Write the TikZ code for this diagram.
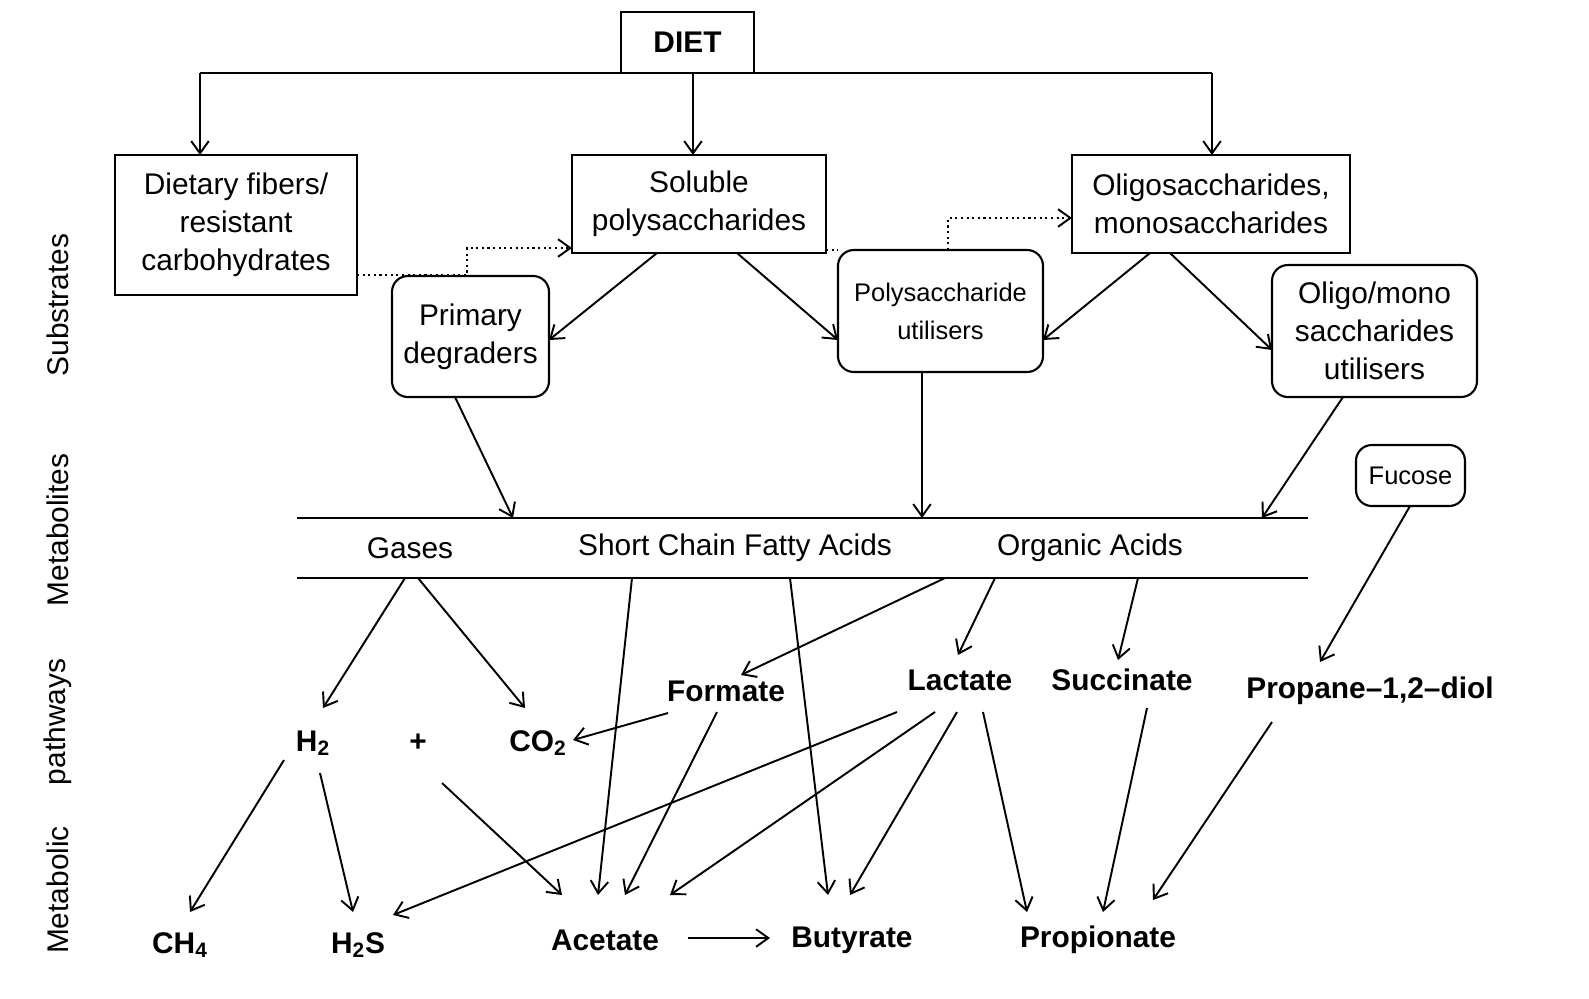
\documentclass[tikz,border=0pt]{standalone}
\usepackage{fontspec}
\setmainfont{Liberation Sans}
\usetikzlibrary{arrows.meta}
\begin{document}
\begin{tikzpicture}[x=0.02cm,y=-0.02cm,
  every node/.style={font=\fontsize{17}{21.5}\selectfont,align=center,inner sep=0pt},
  bx/.style={draw,line width=1.2pt},
  rbx/.style={draw,line width=1.2pt,rounded corners=9pt},
  bl/.style={font=\fontsize{17}{21.5}\selectfont\bfseries},
  ar/.style={line width=1.1pt,-{Straight Barb[length=7pt,width=10pt,line width=1.1pt]}},
  dt/.style={line width=1.2pt,dotted,-{Straight Barb[length=7pt,width=10pt,line width=1.1pt]}},
  side/.style={rotate=90,font=\fontsize{17}{21.5}\selectfont}]
\useasboundingbox (0,0) rectangle (1589,998);
% boxes
\node[bx,minimum width=133*0.02cm,minimum height=61*0.02cm,font=\fontsize{17}{21.5}\selectfont\bfseries] (diet) at (687.5,42.5) {DIET};
\node[bx,minimum width=242*0.02cm,minimum height=140*0.02cm] (fib) at (236,225) {Dietary fibers/\\resistant\\carbohydrates};
\node[bx,minimum width=254*0.02cm,minimum height=98*0.02cm] (sol) at (699,204) {Soluble\\polysaccharides};
\node[bx,minimum width=278*0.02cm,minimum height=98*0.02cm] (oli) at (1211,204) {Oligosaccharides,\\monosaccharides};
\node[rbx,minimum width=157*0.02cm,minimum height=121*0.02cm] (pd) at (470.5,336.5) {Primary\\degraders};
\node[rbx,minimum width=205*0.02cm,minimum height=122*0.02cm,font=\fontsize{14.5}{21.5}\selectfont,fill=white] (pu) at (940.5,311) {Polysaccharide\\utilisers};
\node[rbx,minimum width=205*0.02cm,minimum height=132*0.02cm] (ou) at (1374.5,331) {Oligo/mono\\saccharides\\utilisers};
\node[rbx,minimum width=109*0.02cm,minimum height=61*0.02cm,font=\fontsize{14.5}{21.5}\selectfont] (fuc) at (1410.5,475.5) {Fucose};
% diet tree
\draw[line width=1.2pt] (200,73) -- (1212,73);
\draw[ar] (200,73) -- (200,155);
\draw[ar] (693,73) -- (693,155);
\draw[ar] (1212,73) -- (1212,155);
% dotted
\draw[dt] (357,275) -- (467,275) -- (467,248) -- (572,248);
\begin{scope}[on background layer/.try]\end{scope}
\draw[line width=1.2pt,dotted] (826,250) -- (838,250);
\draw[dt] (948,250) -- (948,218) -- (1072,218);
% substrate arrows
\draw[ar] (657,253) -- (549,340);
\draw[ar] (737,253) -- (838,340);
\draw[ar] (1150,253) -- (1043,340);
\draw[ar] (1170,253) -- (1272,350);
\draw[ar] (455,397) -- (513,518);
\draw[ar] (922,372) -- (922,518);
\draw[ar] (1343,397) -- (1262,518);
% metabolites band
\draw[line width=1.2pt] (297,518) -- (1308,518);
\draw[line width=1.2pt] (297,578) -- (1308,578);
\node (gas) at (410,548) {Gases};
\node (scfa) at (735,548) {Short Chain Fatty Acids};
\node (oa) at (1090,548) {Organic Acids};
% labels
\node[bl] (form) at (726,691) {Formate};
\node[bl] (lac) at (960,680) {Lactate};
\node[bl] (suc) at (1122,680) {Succinate};
\node[bl] (prd) at (1370,691) {Propane--1,2--diol};
\node[bl] (h2) at (313,743) {H$_\mathbf{2}$};
\node[bl] (plus) at (418,743) {+};
\node[bl] (co2) at (538,743) {CO$_\mathbf{2}$};
\node[bl] (ch4) at (180,945) {CH$_\mathbf{4}$};
\node[bl] (h2s) at (358,945) {H$_\mathbf{2}$S};
\node[bl] (ace) at (605,940) {Acetate};
\node[bl] (but) at (852,940) {Butyrate};
\node[bl] (pro) at (1098,940) {Propionate};
% pathway arrows
\draw[ar] (1410,506) -- (1320,662);
\draw[ar] (405,578) -- (323,708);
\draw[ar] (418,578) -- (525,708);
\draw[ar] (632,578) -- (598,895);
\draw[ar] (790,578) -- (828,895);
\draw[ar] (945,578) -- (741,675);
\draw[ar] (995,578) -- (958,655);
\draw[ar] (1138,578) -- (1118,660);
\draw[ar] (668,713) -- (573,740);
\draw[ar] (717,712) -- (625,895);
\draw[ar] (897,712) -- (393,915);
\draw[ar] (935,712) -- (670,895);
\draw[ar] (957,712) -- (850,895);
\draw[ar] (983,712) -- (1027,912);
\draw[ar] (1147,708) -- (1103,912);
\draw[ar] (1272,722) -- (1153,900);
\draw[ar] (284,760) -- (190,912);
\draw[ar] (320,773) -- (353,912);
\draw[ar] (442,783) -- (562,895);
\draw[ar] (688,938) -- (770,938);
% side labels
\node[side] (s1) at (58,305) {Substrates};
\node[side] (s2) at (58,530) {Metabolites};
\node[side] (s3) at (58,722) {pathways};
\node[side] (s4) at (58,890) {Metabolic};
\end{tikzpicture}
\end{document}
